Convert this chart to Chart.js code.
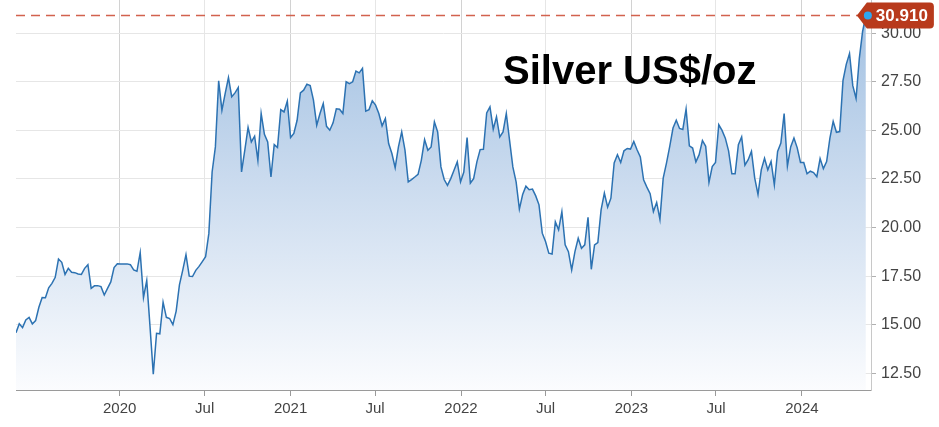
<!DOCTYPE html>
<html>
<head>
<meta charset="utf-8">
<script src="https://cdn.jsdelivr.net/npm/chart.js@4.4.1/dist/chart.umd.min.js"></script>
<style>
html,body{margin:0;padding:0;background:#fff;}
#wrap{position:relative;width:939px;height:427px;}
</style>
</head>
<body>
<div id="wrap"><canvas id="c" width="939" height="427"></canvas></div>
<script>
// ---- data (weekly closes) ----
const dates = [
 '2019-05-24','2019-05-31','2019-06-07','2019-06-14','2019-06-21','2019-06-28','2019-07-05','2019-07-12','2019-07-19','2019-07-26','2019-08-02','2019-08-09','2019-08-16','2019-08-23','2019-08-30','2019-09-06','2019-09-13','2019-09-20','2019-09-27','2019-10-04','2019-10-11','2019-10-18','2019-10-25','2019-11-01','2019-11-08','2019-11-15','2019-11-22','2019-11-29','2019-12-06','2019-12-13','2019-12-20','2019-12-27',
 '2020-01-03','2020-01-10','2020-01-17','2020-01-24','2020-01-31','2020-02-07','2020-02-14','2020-02-21','2020-02-28','2020-03-06','2020-03-13','2020-03-20','2020-03-27','2020-04-03','2020-04-10','2020-04-17','2020-04-24','2020-05-01','2020-05-08','2020-05-15','2020-05-22','2020-05-29','2020-06-05','2020-06-12','2020-06-19','2020-06-26','2020-07-03','2020-07-10','2020-07-17','2020-07-24','2020-07-31','2020-08-07','2020-08-14','2020-08-21','2020-08-28','2020-09-04','2020-09-11','2020-09-18','2020-09-25','2020-10-02','2020-10-09','2020-10-16','2020-10-23','2020-10-30','2020-11-06','2020-11-13','2020-11-20','2020-11-27','2020-12-04','2020-12-11','2020-12-18','2020-12-25',
 '2021-01-01','2021-01-08','2021-01-15','2021-01-22','2021-01-29','2021-02-05','2021-02-12','2021-02-19','2021-02-26','2021-03-05','2021-03-12','2021-03-19','2021-03-26','2021-04-02','2021-04-09','2021-04-16','2021-04-23','2021-04-30','2021-05-07','2021-05-14','2021-05-21','2021-05-28','2021-06-04','2021-06-11','2021-06-18','2021-06-25','2021-07-02','2021-07-09','2021-07-16','2021-07-23','2021-07-30','2021-08-06','2021-08-13','2021-08-20','2021-08-27','2021-09-03','2021-09-10','2021-09-17','2021-09-24','2021-10-01','2021-10-08','2021-10-15','2021-10-22','2021-10-29','2021-11-05','2021-11-12','2021-11-19','2021-11-26','2021-12-03','2021-12-10','2021-12-17','2021-12-24','2021-12-31',
 '2022-01-07','2022-01-14','2022-01-21','2022-01-28','2022-02-04','2022-02-11','2022-02-18','2022-02-25','2022-03-04','2022-03-11','2022-03-18','2022-03-25','2022-04-01','2022-04-08','2022-04-15','2022-04-22','2022-04-29','2022-05-06','2022-05-13','2022-05-20','2022-05-27','2022-06-03','2022-06-10','2022-06-17','2022-06-24','2022-07-01','2022-07-08','2022-07-15','2022-07-22','2022-07-29','2022-08-05','2022-08-12','2022-08-19','2022-08-26','2022-09-02','2022-09-09','2022-09-16','2022-09-23','2022-09-30','2022-10-07','2022-10-14','2022-10-21','2022-10-28','2022-11-04','2022-11-11','2022-11-18','2022-11-25','2022-12-02','2022-12-09','2022-12-16','2022-12-23','2022-12-30',
 '2023-01-06','2023-01-13','2023-01-20','2023-01-27','2023-02-03','2023-02-10','2023-02-17','2023-02-24','2023-03-03','2023-03-10','2023-03-17','2023-03-24','2023-03-31','2023-04-07','2023-04-14','2023-04-21','2023-04-28','2023-05-05','2023-05-12','2023-05-19','2023-05-26','2023-06-02','2023-06-09','2023-06-16','2023-06-23','2023-06-30','2023-07-07','2023-07-14','2023-07-21','2023-07-28','2023-08-04','2023-08-11','2023-08-18','2023-08-25','2023-09-01','2023-09-08','2023-09-15','2023-09-22','2023-09-29','2023-10-06','2023-10-13','2023-10-20','2023-10-27','2023-11-03','2023-11-10','2023-11-17','2023-11-24','2023-12-01','2023-12-08','2023-12-15','2023-12-22','2023-12-29',
 '2024-01-05','2024-01-12','2024-01-19','2024-01-26','2024-02-02','2024-02-09','2024-02-16','2024-02-23','2024-03-01','2024-03-08','2024-03-15','2024-03-22','2024-03-29','2024-04-05','2024-04-12','2024-04-19','2024-04-26','2024-05-03','2024-05-10','2024-05-17'
];
const prices = [
 14.59,15.05,14.85,15.25,15.38,15.04,15.21,15.90,16.40,16.39,16.90,17.13,17.44,18.38,18.21,17.59,17.90,17.70,17.68,17.61,17.59,17.90,18.09,16.87,17.00,17.01,16.96,16.53,16.87,17.20,17.94,18.14,
 18.13,18.13,18.13,18.09,17.82,17.75,18.71,16.40,17.27,14.90,12.45,14.56,14.53,16.16,15.38,15.32,15.00,15.70,17.05,17.80,18.60,17.50,17.48,17.80,18.00,18.25,18.50,19.70,22.86,24.15,27.55,26.04,26.90,27.72,26.73,26.93,27.21,22.86,23.98,25.15,24.41,24.70,23.46,25.87,24.80,24.41,22.60,24.27,24.12,26.07,25.95,26.50,
 24.63,24.84,25.52,26.93,27.07,27.38,27.31,26.56,25.27,25.87,26.38,25.21,25.01,25.39,26.11,26.09,25.87,27.50,27.41,27.50,28.05,27.96,28.19,25.99,26.07,26.52,26.30,25.87,25.23,25.61,24.32,23.81,23.08,24.15,24.92,23.98,22.35,22.47,22.60,22.74,23.46,24.53,23.98,24.15,25.44,24.92,23.12,22.47,22.17,22.52,22.95,23.38,22.35,
 22.86,24.63,22.29,22.52,23.38,24.01,24.03,25.90,26.21,25.06,25.70,24.66,24.92,25.87,24.49,23.12,22.35,20.95,21.70,22.13,21.95,21.98,21.63,21.17,19.71,19.28,18.68,18.64,20.29,19.88,20.82,19.11,18.76,17.82,18.76,19.45,18.93,19.11,20.53,17.85,19.11,19.23,20.91,21.77,21.05,21.51,23.32,23.75,23.35,23.95,24.07,24.04,
 24.43,24.00,23.63,22.46,22.08,21.74,20.82,21.29,20.42,22.54,23.32,24.18,25.12,25.52,25.10,25.05,26.10,24.20,24.09,23.38,23.75,24.48,24.18,22.32,23.14,23.35,25.29,25.00,24.60,23.95,22.77,22.77,24.26,24.66,23.21,23.49,23.92,22.54,21.70,22.97,23.57,22.97,23.40,22.20,23.92,24.35,25.87,23.17,24.15,24.61,24.10,23.35,
 23.35,22.77,22.90,22.83,22.62,23.55,23.03,23.40,24.60,25.46,24.90,24.94,27.56,28.40,28.95,27.30,26.64,28.71,30.09,30.91
];
const xTickDates = ['2020-01-01','2020-07-01','2021-01-01','2021-07-01','2022-01-01','2022-07-01','2023-01-01','2023-07-01','2024-01-01'];
const xTickLabels = ['2020','Jul','2021','Jul','2022','Jul','2023','Jul','2024'];
const yTickValues = [12.5,15,17.5,20,22.5,25,27.5,30];
const chartTitle = 'Silver US$/oz';
const lastLabel = '30.910';

// ---- helpers ----
const DAY = 86400000;
const t0 = Date.parse(dates[0]);
const dayOf = d => (Date.parse(d) - t0) / DAY;
const points = dates.map((d, i) => ({x: dayOf(d), y: prices[i]}));
const xTickPos = xTickDates.map(dayOf);

const FONT = '"Liberation Sans", Arial, sans-serif';

const overlay = {
  id: 'overlay',
  afterDatasetsDraw(chart) {
    const {ctx, chartArea, scales} = chart;
    const lastX = scales.x.getPixelForValue(points[points.length - 1].x);
    const lastY = scales.y.getPixelForValue(prices[prices.length - 1]);
    ctx.save();
    // title
    ctx.fillStyle = '#000';
    ctx.font = 'bold 40px ' + FONT;
    ctx.textBaseline = 'alphabetic';
    ctx.textAlign = 'left';
    ctx.fillText(chartTitle, 503, 84);
    // dashed line at last value
    ctx.strokeStyle = '#d2624e';
    ctx.lineWidth = 1.5;
    ctx.setLineDash([9, 6]);
    ctx.beginPath();
    ctx.moveTo(chartArea.left, lastY);
    ctx.lineTo(lastX - 6, lastY);
    ctx.stroke();
    ctx.setLineDash([]);
    // tag
    const tip = lastX - 9, bl = lastX + 1, br = lastX + 68, top = lastY - 13, bot = lastY + 13, r = 4;
    ctx.fillStyle = '#b83a1c';
    ctx.beginPath();
    ctx.moveTo(tip, lastY);
    ctx.lineTo(bl, top);
    ctx.lineTo(br - r, top);
    ctx.quadraticCurveTo(br, top, br, top + r);
    ctx.lineTo(br, bot - r);
    ctx.quadraticCurveTo(br, bot, br - r, bot);
    ctx.lineTo(bl, bot);
    ctx.closePath();
    ctx.fill();
    ctx.fillStyle = '#fff';
    ctx.font = 'bold 17px ' + FONT;
    ctx.textBaseline = 'middle';
    ctx.fillText(lastLabel, lastX + 10, lastY + 1);
    // dot
    ctx.fillStyle = '#2ea6f0';
    ctx.beginPath();
    ctx.arc(lastX + 2, lastY, 4, 0, Math.PI * 2);
    ctx.fill();
    ctx.restore();
  }
};

new Chart(document.getElementById('c'), {
  type: 'line',
  data: {
    datasets: [{
      data: points,
      borderColor: '#2c72b2',
      borderWidth: 1.5,
      pointRadius: 0,
      tension: 0,
      fill: 'start',
      backgroundColor: (c) => {
        const a = c.chart.chartArea;
        if (!a) return 'rgba(0,0,0,0)';
        const g = c.chart.ctx.createLinearGradient(0, a.top, 0, a.bottom);
        g.addColorStop(0, '#9fbfe1');
        g.addColorStop(0.45, '#c9daee');
        g.addColorStop(1, '#fbfcfe');
        return g;
      }
    }]
  },
  options: {
    responsive: false,
    animation: false,
    devicePixelRatio: 1,
    layout: {autoPadding: false, padding: {left: 16, right: 0, top: 0, bottom: 0}},
    plugins: {legend: {display: false}, tooltip: {enabled: false}, title: {display: false}},
    scales: {
      x: {
        type: 'linear',
        min: 0,
        max: 1831,
        afterBuildTicks: (s) => { s.ticks = xTickPos.map(v => ({value: v})); },
        afterFit: (s) => { s.height = 37; s.paddingLeft = 0; s.paddingRight = 0; s.paddingTop = 0; s.paddingBottom = 0; },
        ticks: {
          autoSkip: false,
          maxRotation: 0,
          color: '#444',
          font: {family: FONT, size: 15},
          padding: 4,
          callback: (v, i) => xTickLabels[i]
        },
        grid: {
          color: (c) => (c.index % 2 === 0 ? '#d2d2d2' : '#e6e6e6'),
          tickColor: '#9a9a9a',
          tickLength: 6,
          lineWidth: 1
        },
        border: {display: true, color: '#9a9a9a', width: 1}
      },
      y: {
        position: 'right',
        min: 11.64,
        max: 31.71,
        afterBuildTicks: (s) => { s.ticks = yTickValues.map(v => ({value: v})); },
        afterFit: (s) => { s.width = 68; s.paddingTop = 0; s.paddingBottom = 0; s.paddingLeft = 0; s.paddingRight = 0; },
        ticks: {
          color: '#444',
          font: {family: FONT, size: 16},
          padding: 5,
          callback: (v) => Number(v).toFixed(2)
        },
        grid: {color: '#e6e6e6', tickColor: '#b0b0b0', tickLength: 5, lineWidth: 1},
        border: {display: true, color: '#c8c8c8', width: 1}
      }
    }
  },
  plugins: [overlay]
});
</script>
</body>
</html>
